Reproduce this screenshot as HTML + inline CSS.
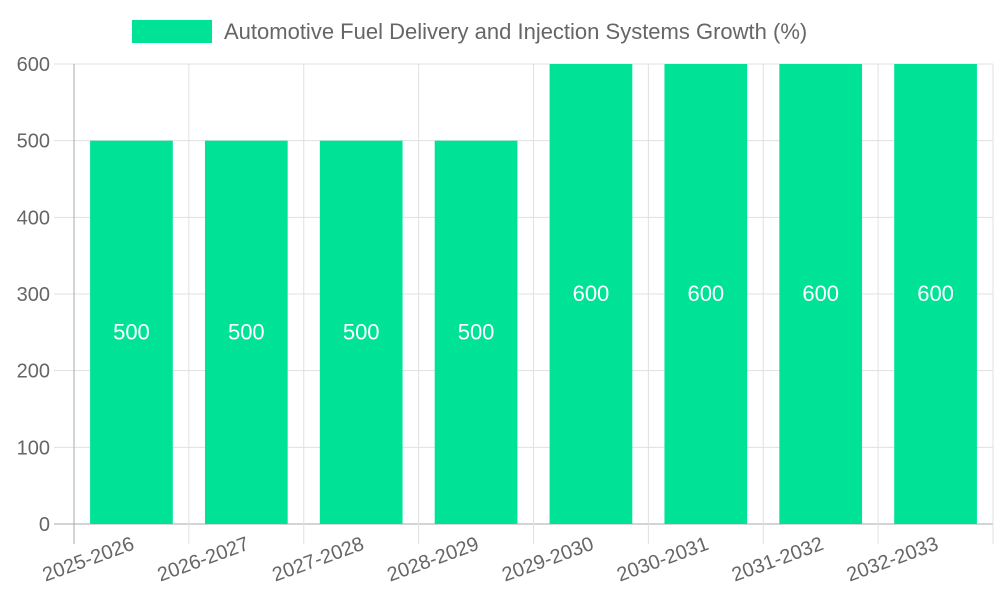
<!DOCTYPE html>
<html><head><meta charset="utf-8"><style>body{margin:0;background:#fff}svg{display:block;font-family:"Liberation Sans",sans-serif}</style></head>
<body>
<svg id="c" width="1000" height="600">
<g>
<rect x="132" y="20" width="80" height="23" fill="#00E396"/>
<text x="224" y="39" font-size="22" fill="#666">Automotive Fuel Delivery and Injection Systems Growth (%)</text>
</g>
<g id="grid"></g><g id="bars"></g><g id="axes"></g>
</svg>
<script>
const categories=["2025-2026","2026-2027","2027-2028","2028-2029","2029-2030","2030-2031","2031-2032","2032-2033"];
const values=[500,500,500,500,600,600,600,600];
const yTicks=[0,100,200,300,400,500,600];
const X0=74,X1=993,Y0=524,Y1=64,YMAX=600;
const NS="http://www.w3.org/2000/svg";
const bw=(X1-X0)/categories.length;
const y=v=>Y0-(v/YMAX)*(Y0-Y1);
const xc=i=>X0+bw*(i+0.5);
function mk(t,a,p){const e=document.createElementNS(NS,t);for(const k in a)e.setAttribute(k,a[k]);p.appendChild(e);return e;}
const grid=document.getElementById('grid'),bars=document.getElementById('bars'),axes=document.getElementById('axes');
yTicks.forEach(t=>{
 const l=mk('line',{x1:54,x2:X1,y1:y(t),y2:y(t),stroke:t===0?'#aaa':'#e0e0e0','stroke-width':1},grid);
 
 
 const tx=mk('text',{x:50,y:y(t)+7,'text-anchor':'end','font-size':20,fill:'#666'},axes);
 tx.textContent=t;
 
 
});
for(let i=0;i<=categories.length;i++){
 const gx=X0+bw*i;
 const l=mk('line',{x1:gx,x2:gx,y1:Y1,y2:544,stroke:i===0?'#aaa':'#e0e0e0','stroke-width':1},grid);
 
 
}
categories.forEach((c,i)=>{
 const w=bw*0.72;
 const r=mk('rect',{x:xc(i)-w/2,y:y(values[i]),width:w,height:Y0-y(values[i]),fill:'#00E396'},bars);
 
 
 const v=mk('text',{x:xc(i),y:(y(values[i])+Y0)/2+7,'text-anchor':'middle','font-size':22,fill:'#fff'},bars);
 v.textContent=values[i];
 
 
 const lx=xc(i)+4,ly=549;
 const t=mk('text',{x:lx,y:ly,'text-anchor':'end','font-size':20,fill:'#666',transform:`rotate(-20 ${lx} ${ly})`},axes);
 t.textContent=c;
 
 
});
</script>
</body></html>
